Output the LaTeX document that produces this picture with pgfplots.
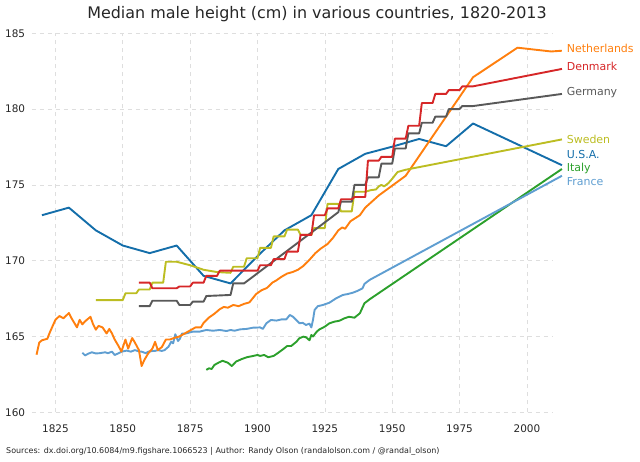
\documentclass[border=0pt]{standalone}
\usepackage{fontspec}
\setmainfont{DejaVu Sans}
\usepackage{pgfplots}
\pgfplotsset{compat=1.18}
\definecolor{cUSA}{RGB}{20,110,170}
\definecolor{cNL}{RGB}{255,127,14}
\definecolor{cDK}{RGB}{214,39,40}
\definecolor{cDE}{RGB}{89,89,89}
\definecolor{cSE}{RGB}{188,189,34}
\definecolor{cIT}{RGB}{44,160,44}
\definecolor{cFR}{RGB}{95,158,209}
\definecolor{txt}{RGB}{38,38,38}
\tikzset{lab/.style={anchor=west, inner sep=0pt, text height=0.729em, text depth=0pt, font=\fontsize{11}{13}\selectfont}}
\begin{document}
\begin{tikzpicture}[x=1bp,y=1bp]
\path[use as bounding box] (0,0) rectangle (640,462);
\node[anchor=base, text=txt, font=\fontsize{16}{19}\selectfont, inner sep=0pt] at (317,443.9) {Median male height (cm) in various countries, 1820-2013};
\node[anchor=base west, text=txt, font=\fontsize{8}{9.5}\selectfont, inner sep=0pt] at (6,8.4) {Sources: dx.doi.org/10.6084/m9.figshare.1066523 | Author: Randy Olson (randalolson.com / @randal\_olson)};
\begin{axis}[at={(31.7bp,49.7bp)}, anchor=south west, scale only axis,
  width=521.6bp, height=379bp,
  xmin=1816.2, xmax=2009.8, ymin=160, ymax=185,
  axis line style={draw=none}, major tick length=0pt,
  xtick={1825,1850,...,2000}, ytick={160,165,...,185},
  grid=major, grid style={dash pattern=on 4bp off 4bp, color=black!13, line width=0.6bp},
  clip=false, no markers,
  /pgf/number format/1000 sep={}, /pgf/number format/assume math mode=true,
  ticklabel style={font=\fontsize{10.5}{12}\selectfont, text=txt},
  xticklabel style={anchor=north, inner sep=0pt, yshift=-12.2bp},
  yticklabel style={anchor=east, inner sep=0pt, xshift=-6.4bp},
  every axis plot/.append style={line width=1.9bp, line join=round}
]
% USA
\addplot[cUSA] coordinates {(1820,173.0)(1830,173.5)(1840,172.0)(1850,171.0)(1860,170.5)(1870,171.0)(1880,169.0)(1890,168.5)(1900,170.3)(1910,172.0)(1920,173.0)(1930,176.05)(1940,177.05)(1950,177.52)(1960,178.03)(1970,177.55)(1980,179.05)(2013,176.3)};
% Italy
\addplot[cIT] coordinates {(1881,162.8)(1882,162.9)(1883,162.86)(1884,163.12)(1885.5,163.27)(1887,163.4)(1889,163.27)(1890.5,163.05)(1892,163.34)(1894,163.5)(1896,163.63)(1898,163.7)(1900,163.78)(1901,163.72)(1902.5,163.78)(1904,163.63)(1906,163.72)(1907.5,163.9)(1909.5,164.16)(1911,164.37)(1912.5,164.37)(1914.5,164.66)(1915.5,164.88)(1917,164.99)(1918,164.95)(1919.3,164.75)(1920,165.1)(1920.6,165.0)(1922,165.32)(1923,165.47)(1925,165.65)(1926.7,165.87)(1928.6,165.98)(1930.4,166.04)(1932.3,166.2)(1934,166.3)(1936,166.24)(1938,166.53)(1939.7,167.19)(1941.6,167.45)(2013,176.05)};
% France
\addplot[cFR] coordinates {(1835,163.93)(1836,163.75)(1837,163.85)(1838.5,163.96)(1840,163.88)(1841.5,163.9)(1843.5,163.96)(1844.5,163.9)(1846,164.0)(1847,163.78)(1848.5,163.9)(1849.5,164.0)(1851.5,164.07)(1853,164.0)(1854.5,164.1)(1856,164.02)(1857,164.0)(1858.5,163.9)(1859.5,164.0)(1861,164.04)(1862,164.05)(1863,164.1)(1864.5,164.05)(1865.5,164.1)(1867,164.33)(1868,164.66)(1868.7,164.55)(1869.5,165.15)(1870.5,164.7)(1871.2,164.85)(1872,165.2)(1873,165.18)(1874.5,165.25)(1876,165.32)(1878.5,165.32)(1881,165.43)(1883.5,165.38)(1886,165.43)(1888.5,165.36)(1890,165.43)(1891.5,165.38)(1893.5,165.47)(1896,165.5)(1898.3,165.58)(1901,165.6)(1902,165.5)(1903.3,165.87)(1905,166.09)(1907,166.05)(1909,166.13)(1910.7,166.13)(1912,166.42)(1913.2,166.3)(1914.4,166.09)(1915.6,165.87)(1916.8,165.9)(1918,165.76)(1919.3,165.85)(1920,165.6)(1920.6,166.09)(1921.2,166.75)(1922.4,167.0)(1924.3,167.08)(1926.7,167.23)(1929.2,167.52)(1931.7,167.74)(1933.5,167.8)(1935.4,167.89)(1937,168.0)(1939,168.18)(1939.7,168.47)(1941.6,168.73)(2013,175.6)};
% Netherlands
\addplot[cNL] coordinates {(1818,163.8)(1819,164.6)(1820,164.75)(1822,164.85)(1823,165.3)(1825,166.1)(1826.5,166.35)(1828,166.2)(1830,166.55)(1831,166.2)(1832,165.9)(1833,165.6)(1834,166.1)(1835,165.8)(1836,166.0)(1838,166.3)(1839,165.8)(1840,165.45)(1841,165.7)(1842.5,165.6)(1844,165.2)(1845,165.5)(1846,165.2)(1847,164.8)(1848.5,164.35)(1849.5,164.0)(1851,164.8)(1852,164.2)(1853.5,164.9)(1854.5,164.6)(1856,164.1)(1857,163.05)(1858,163.45)(1859.5,163.9)(1861,164.2)(1862,164.65)(1863,164.1)(1864.5,164.3)(1866,164.8)(1867.5,164.8)(1869,164.9)(1871,165.0)(1873,165.2)(1875,165.4)(1877,165.6)(1879,165.6)(1880,165.9)(1882,166.25)(1884,166.5)(1886,166.8)(1887.5,166.95)(1889,166.9)(1891,167.08)(1893,167.0)(1895,167.15)(1897,167.25)(1899.5,167.8)(1901.5,168.05)(1903.5,168.2)(1905.5,168.55)(1907,168.7)(1909,168.95)(1911,169.15)(1913,169.25)(1915,169.4)(1917,169.65)(1919,170.0)(1921.5,170.5)(1923.5,170.8)(1926,171.1)(1928,171.5)(1930,172.0)(1931.5,172.2)(1932.5,172.1)(1934.5,172.6)(1938,173.0)(1940,173.5)(1945,174.3)(1955,175.6)(1980,182.1)(1996.5,184.05)(2009,183.8)(2013,183.85)};
% Sweden
\addplot[cSE] coordinates {(1840,167.4)(1850,167.4)(1851,167.85)(1855,167.85)(1856,168.1)(1860,168.1)(1861,168.55)(1865,168.55)(1866,169.93)(1870,169.93)(1875,169.7)(1880,169.4)(1885,169.25)(1890,169.2)(1891,169.6)(1895,169.6)(1896,170.16)(1900,170.16)(1901,170.85)(1905,170.85)(1906,171.6)(1910,171.6)(1911,172.05)(1915,172.05)(1916,171.7)(1920,171.7)(1921,172.15)(1925,172.15)(1926,173.75)(1930,173.75)(1931,173.25)(1935,173.25)(1936,174.55)(1940,174.55)(1942,174.65)(1944,174.7)(1945,174.9)(1946,175.0)(1947,174.9)(1948.5,175.1)(1950,175.4)(1952,175.85)(1955,176.0)(2013,178.0)};
% Germany
\addplot[cDE] coordinates {(1856,167.0)(1860,167.0)(1861,167.36)(1870,167.36)(1871,167.08)(1875,167.08)(1876,167.3)(1880,167.3)(1881,167.67)(1890,167.74)(1891,168.5)(1895,168.5)(1930,173.2)(1931,173.9)(1935,173.9)(1936,175.0)(1940,175.0)(1941,175.5)(1945,175.5)(1946,176.4)(1950,176.4)(1951,177.4)(1955,177.4)(1956,178.4)(1960,178.4)(1961,179.1)(1965,179.1)(1966,179.5)(1970,179.5)(1971,180.0)(1975,180.0)(1976,180.2)(1980,180.2)(2013,181.0)};
% Denmark
\addplot[cDK] coordinates {(1856,168.55)(1860,168.55)(1861,168.18)(1870,168.18)(1871,168.3)(1875,168.3)(1876,168.55)(1880,168.55)(1881,169.0)(1885,169.0)(1886,169.34)(1900,169.34)(1901,169.7)(1905,169.7)(1906,170.1)(1910,170.1)(1911,170.6)(1915,170.6)(1916,171.7)(1920,171.7)(1921,173.0)(1925,173.0)(1926,173.45)(1930,173.45)(1931,174.05)(1935,174.05)(1936,174.2)(1940,174.2)(1941,176.6)(1945,176.6)(1946,176.85)(1950,176.85)(1951,178.05)(1955,178.05)(1956,178.9)(1960,178.9)(1961,180.4)(1965,180.4)(1966,181.0)(1970,181.0)(1971,181.25)(1975,181.25)(1976,181.5)(1980,181.5)(2013,182.65)};
\node[lab, text=cNL] at (axis cs:2014.75,183.94) {Netherlands};
\node[lab, text=cDK] at (axis cs:2014.75,182.76) {Denmark};
\node[lab, text=cDE] at (axis cs:2014.75,181.13) {Germany};
\node[lab, text=cSE] at (axis cs:2014.75,178.0) {Sweden};
\node[lab, text=cUSA] at (axis cs:2014.75,176.96) {U.S.A.};
\node[lab, text=cIT] at (axis cs:2014.75,176.1) {Italy};
\node[lab, text=cFR] at (axis cs:2014.75,175.17) {France};
\end{axis}
\end{tikzpicture}
\end{document}
